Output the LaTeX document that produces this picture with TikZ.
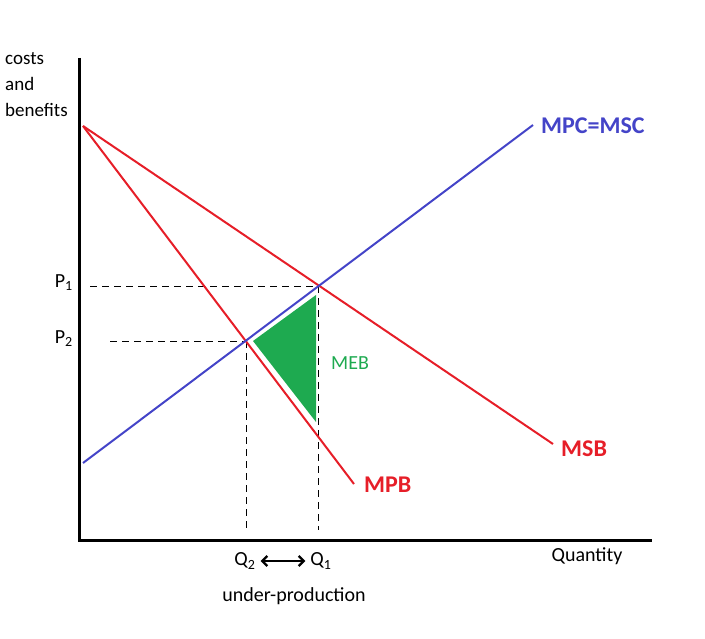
\documentclass[tikz,border=0pt]{standalone}
\usepackage{fontspec}
\setmainfont{Carlito}
\usetikzlibrary{arrows.meta}
\definecolor{cblue}{RGB}{68,68,200}
\definecolor{cred}{RGB}{230,30,40}
\definecolor{cgreen}{RGB}{30,170,80}
\tikzset{
  axis/.style={line width=3pt,black},
  curve/.style={line width=2pt},
  guide/.style={black,line width=0.8pt,dash pattern=on 7pt off 5pt},
  lbl/.style={font=\fontsize{20}{22}\selectfont,inner sep=0pt},
  big/.style={font=\fontsize{24}{26}\selectfont\bfseries,inner sep=0pt}
}
\begin{document}
\begin{tikzpicture}[x=1pt,y=-1pt]
\useasboundingbox (0,0) rectangle (705,639);
\coordinate (O) at (79,540);
\coordinate (Ytop) at (79,58);
\coordinate (Xend) at (652,540);
\draw[axis] (Ytop) -- (O) -- (Xend);
\coordinate (A) at (83,126);
\coordinate (MSBend) at (553,444);
\coordinate (MPBend) at (354,484);
\coordinate (MPCs) at (83,463);
\coordinate (MPCe) at (533,125);
\coordinate (E1) at (318,286);
\coordinate (E2) at (246,341);
\fill[cgreen] (253,341) -- (316,295) -- (316,422) -- cycle;
\draw[guide] (90,286) -- (E1);
\draw[guide] (E1) -- (318,530);
\draw[guide] (110,341) -- (E2);
\draw[guide] (E2) -- (246,530);
\draw[curve,cred] (A) -- (MSBend);
\draw[curve,cred] (A) -- (MPBend);
\draw[curve,cblue] (MPCs) -- (MPCe);
\node[lbl,align=left,anchor=north west,font=\fontsize{19}{26}\selectfont] (yl) at (5,52) {costs\\and\\benefits};
\node[big,text=cblue,anchor=west] (mpc) at (541,126) {MPC=MSC};
\node[big,text=cred,anchor=west] (msb) at (561,449) {MSB};
\node[big,text=cred,anchor=west] (mpb) at (364,485) {MPB};
\node[lbl,text=cgreen,anchor=west] (meb) at (331,363) {MEB};
\node[lbl,anchor=east] (p1) at (73,283) {P\textsubscript{1}};
\node[lbl,anchor=east] (p2) at (73,339) {P\textsubscript{2}};
\node[lbl] (q2) at (245,561) {Q\textsubscript{2}};
\node[lbl] (q1) at (321,561) {Q\textsubscript{1}};
\draw[line width=2.2pt,{Straight Barb[length=5pt,width=10pt]}-{Straight Barb[length=5pt,width=10pt]}] ([xshift=5pt]q2.east) -- ([xshift=-5pt]q1.west);
\node[lbl] (qt) at (587,556) {Quantity};
\node[lbl] (up) at (294,596) {under-production};
\end{tikzpicture}
\end{document}
